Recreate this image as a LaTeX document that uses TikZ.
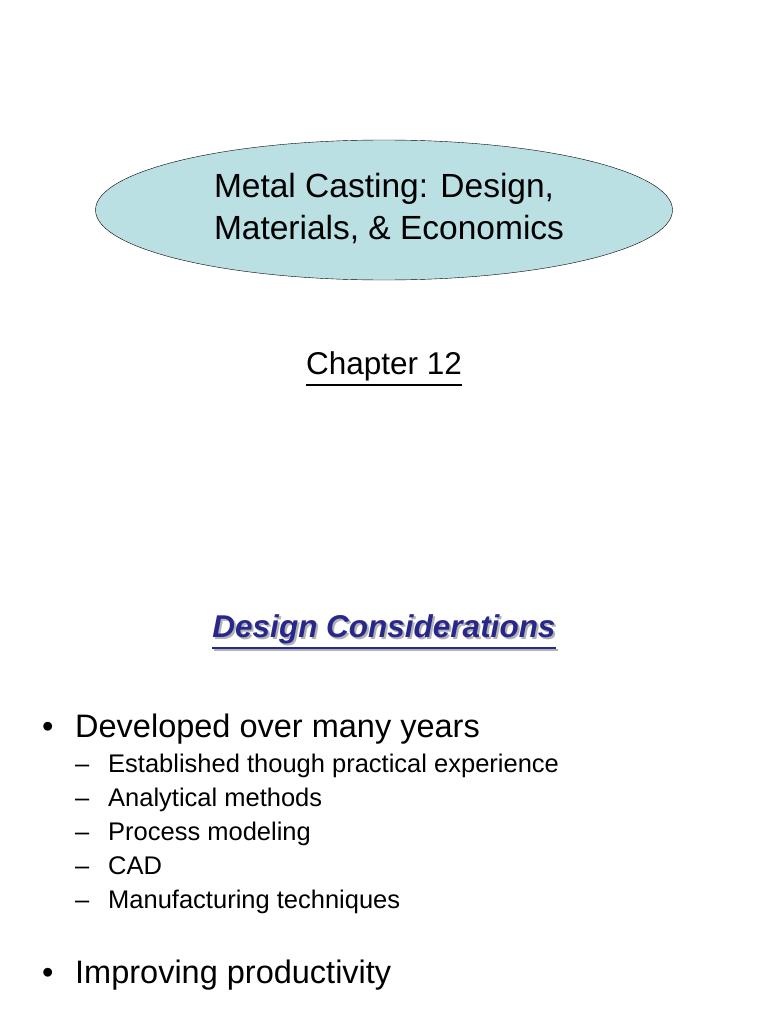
\documentclass[tikz,border=0pt]{standalone}
\usepackage{fontspec}
\setmainfont{Liberation Sans}
\usetikzlibrary{shapes.geometric}
\definecolor{cyanfill}{RGB}{187,224,227}
\definecolor{navy}{RGB}{40,40,140}
\begin{document}
\begin{tikzpicture}[x=1pt,y=-1pt,
  item/.style={anchor=west,inner sep=0pt,text height=23pt,text depth=7pt,font=\fontsize{32.5}{36}\selectfont},
  sub/.style={anchor=west,inner sep=0pt,text height=18pt,text depth=5pt,font=\fontsize{25.5}{28}\selectfont}]
\useasboundingbox[fill=white] (0,0) rectangle (768,1024);
\node[ellipse,draw,fill=cyanfill,minimum width=577,minimum height=140,inner sep=0pt] (ttl) at (384,210) {};
\node[align=left,font=\fontsize{33.5}{42}\selectfont,inner sep=0pt] (ttltext) at (389,209) {Metal Casting: Design,\\Materials, \& Economics};
\node[font=\fontsize{31.5}{34}\selectfont,inner sep=0pt] (ch) at (384,366) {Chapter 12};
\draw[line width=1.4pt] ([yshift=-4pt]ch.south west) -- ([yshift=-4pt]ch.south east);
\node[font=\fontsize{31.5}{34}\selectfont\bfseries\itshape,text=gray!60,inner sep=0pt] (dcs) at (386,631) {Design Considerations};
\draw[gray!60,line width=1.6pt] ([yshift=-4pt]dcs.south west) -- ([yshift=-4pt]dcs.south east);
\node[font=\fontsize{31.5}{34}\selectfont\bfseries\itshape,text=navy,inner sep=0pt] (dc) at (384,629) {Design Considerations};
\draw[navy,line width=1.6pt] ([yshift=-4pt]dc.south west) -- ([yshift=-4pt]dc.south east);
\node[item] (m1) at (42,729) {•};
\node[item] (b1) at (75,729) {Developed over many years};
\foreach \n/\y/\t in {s1/766/Established though practical experience,s2/800/Analytical methods,s3/834/Process modeling,s4/868/CAD,s5/902/Manufacturing techniques}{
  \node[sub] (d\n) at (75,\y) {–};
  \node[sub] (\n) at (108,\y) {\t};
}
\node[item] (m2) at (42,975) {•};
\node[item] (b2) at (75,975) {Improving productivity};
\end{tikzpicture}
\end{document}
